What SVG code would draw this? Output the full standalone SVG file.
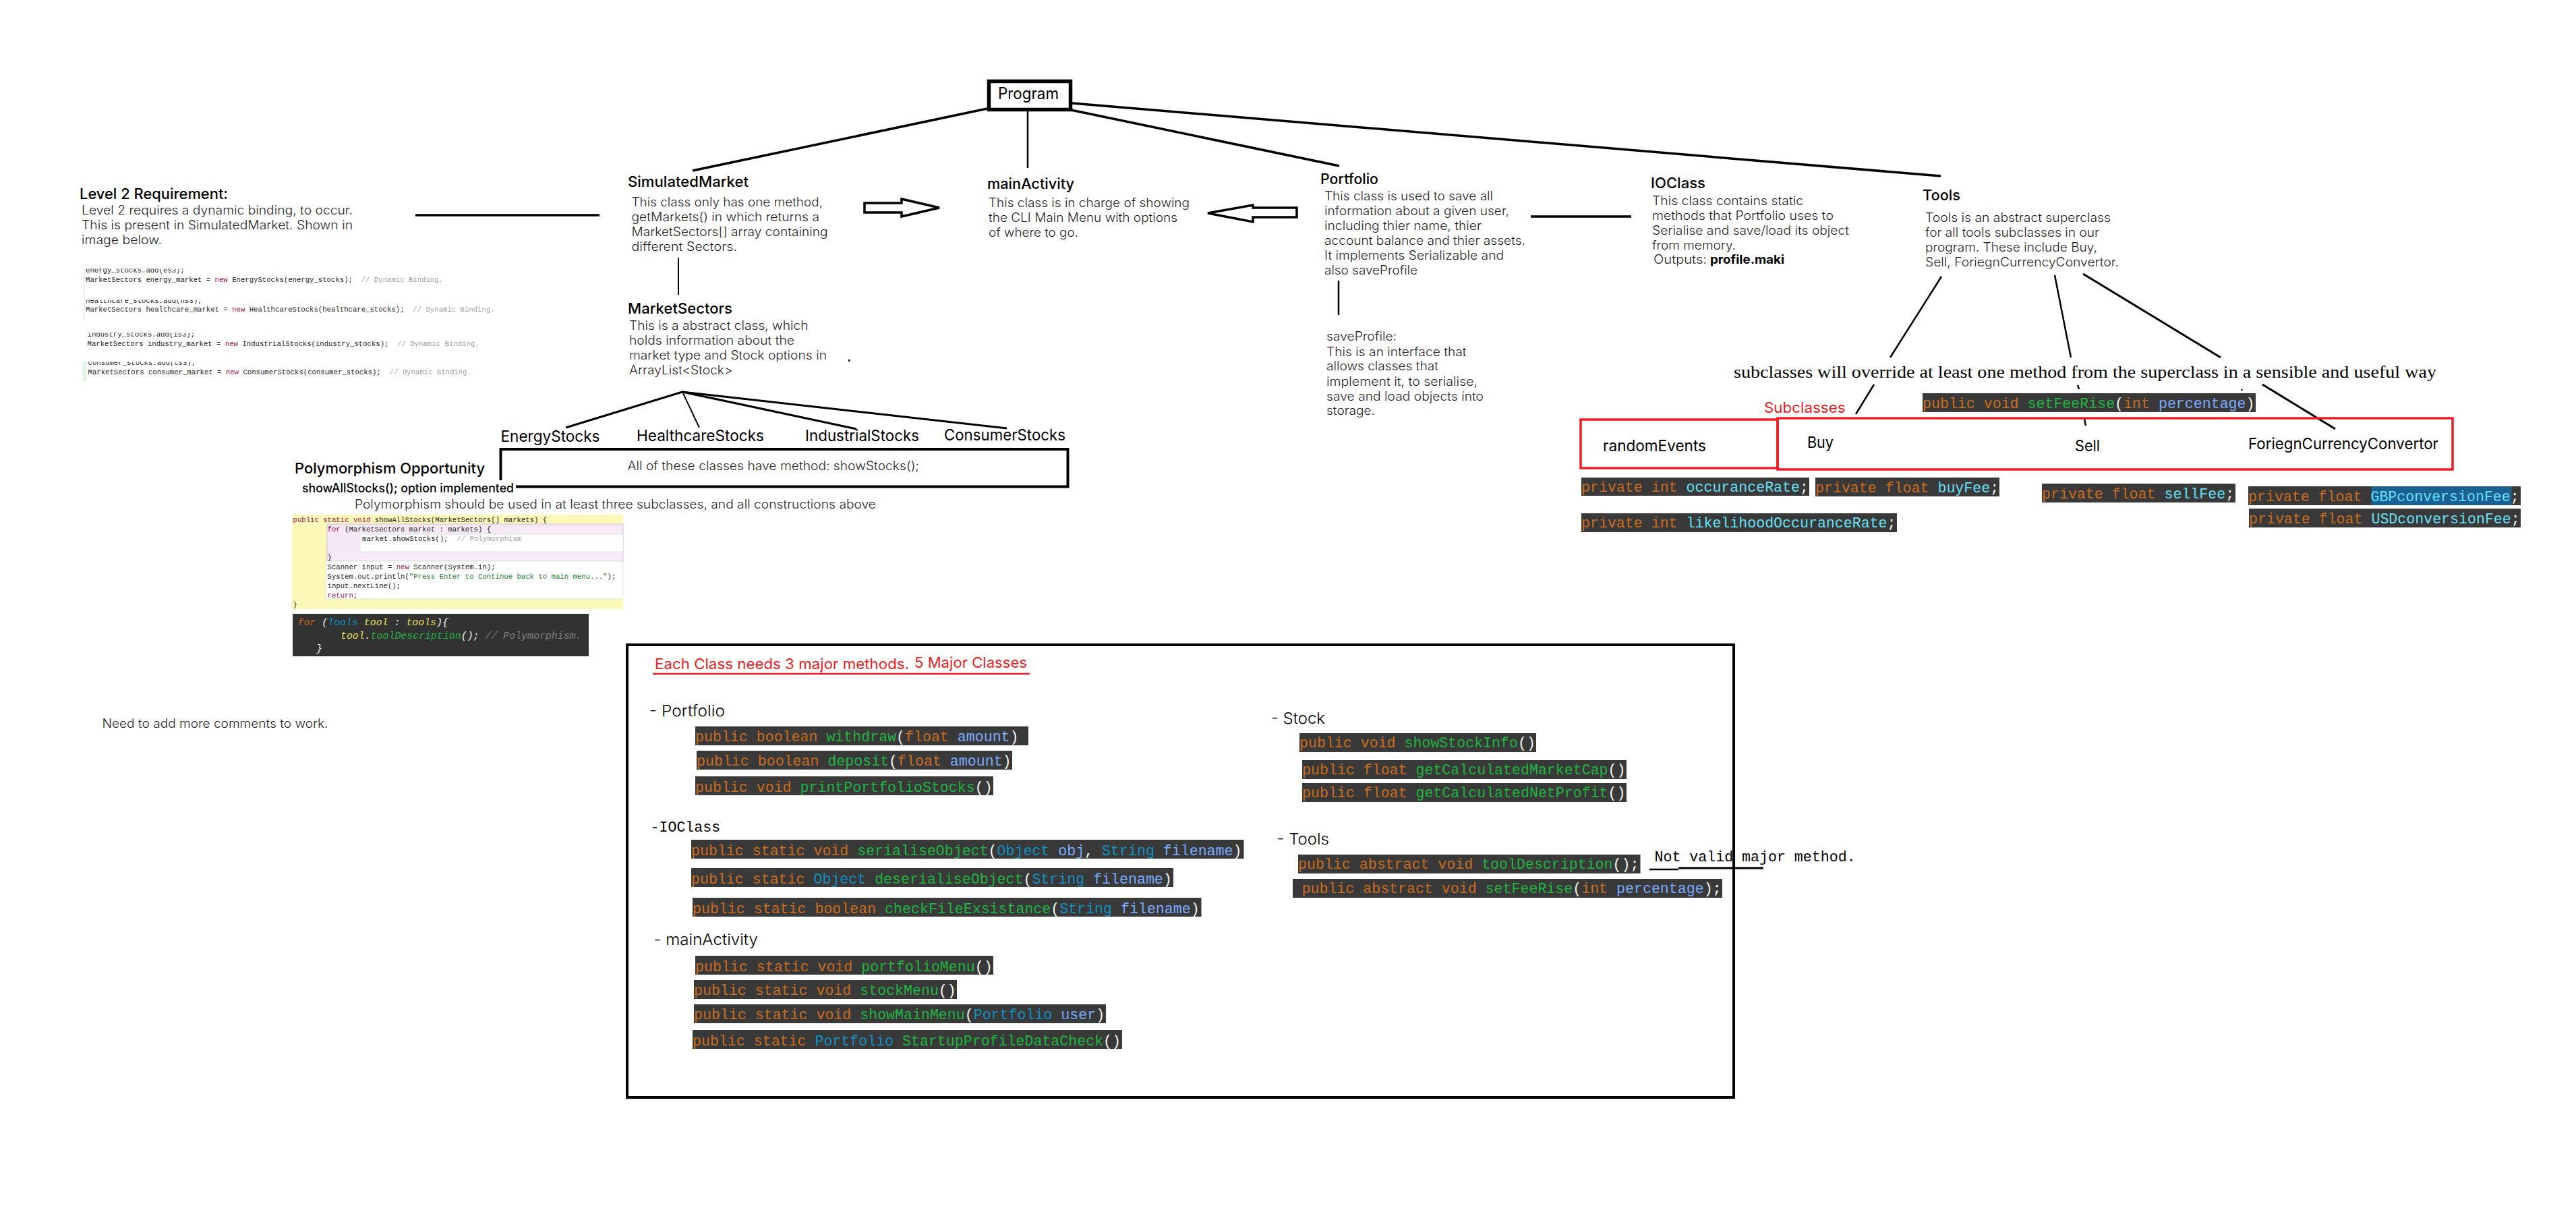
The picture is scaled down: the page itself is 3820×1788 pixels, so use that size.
<svg xmlns="http://www.w3.org/2000/svg" width="3820" height="1788" viewBox="0 0 3820 1788">
<style>
text{font-family:Inter,"Noto Sans","Liberation Sans",sans-serif;fill:#1e1e1e;white-space:pre}
.h{font-size:22px;font-weight:450;fill:#000}
.b{font-size:18px;font-weight:350}
.s{font-size:23px;font-weight:400;fill:#000}
.r{fill:#ed1c24;font-size:22px}
.m{font-family:"Liberation Mono","DejaVu Sans Mono",monospace;font-size:21.6px;fill:#000}
.cd{font-family:"Liberation Mono","DejaVu Sans Mono",monospace;font-size:10.65px;fill:#222}
.d{fill:#393939}
.k{fill:#cc6c1d}.g{fill:#1eb540}.w{fill:#f9faf4}.t{fill:#1290c3}.p{fill:#79abff}.f{fill:#66e1f8}
.kw{fill:#a01050}.cm{fill:#a0a0a0}.st{fill:#1a7a30}
.l{stroke:#000;fill:none;stroke-linecap:butt}
.rr{fill:none;stroke:#ed1c24;stroke-width:3.5}
.bx{fill:none;stroke:#000;stroke-width:4}
.ar{fill:#fff;stroke:#000;stroke-width:3.5}
.it{font-family:"Liberation Mono","DejaVu Sans Mono",monospace;font-size:14.9px;font-style:italic}
</style>
<defs>
<clipPath id="c1"><rect x="120" y="398.5" width="300" height="8"/></clipPath>
<clipPath id="c2"><rect x="120" y="444.5" width="300" height="8"/></clipPath>
<clipPath id="c3"><rect x="120" y="493.5" width="300" height="8"/></clipPath>
<clipPath id="c4"><rect x="120" y="536.5" width="300" height="8"/></clipPath>
</defs>
<rect width="3820" height="1788" fill="#fff"/>

<g id="connectors">
<path class="l" stroke-width="3.5" d="M1464 161L1027 253"/>
<path class="l" stroke-width="2.5" d="M1524 164V249"/>
<path class="l" stroke-width="3.5" d="M1588 163L1986 246"/>
<path class="l" stroke-width="3.5" d="M1590 153L2878 261"/>
<path class="l" stroke-width="3.5" d="M616 319H889"/>
<path class="l" stroke-width="2" d="M1006 382V437"/>
<path class="l" stroke-width="3" d="M1012 581L839 634"/>
<path class="l" stroke-width="2" d="M1012 581L1037 634"/>
<path class="l" stroke-width="3" d="M1012 581L1270 636"/>
<path class="l" stroke-width="3" d="M1012 581L1493 635"/>
<path class="l" stroke-width="2.5" d="M1985 416V467"/>
<path class="l" stroke-width="3.5" d="M2270 321H2419"/>
<path class="l" stroke-width="2.5" d="M2879 410L2803 530"/>
<path class="l" stroke-width="2.5" d="M3047 408L3071 530"/>
<path class="l" stroke-width="3" d="M3089 406L3293 530"/>
<path class="l" stroke-width="2.5" d="M2779 570L2752 614"/>
<path class="l" stroke-width="2.5" d="M3081 571L3083 577"/>
<path class="l" stroke-width="2.5" d="M3091 621L3093 631"/>
<path class="l" stroke-width="3" d="M3355 570L3463 636"/>
<path class="l" stroke-width="2.5" d="M2446 1289H2489"/>
<path class="l" stroke-width="3" d="M2489 1287H2615"/>
<rect x="1258" y="533" width="2.5" height="3" fill="#000"/>
<rect x="3323" y="577" width="2.5" height="2" fill="#000"/>
<polygon class="ar" points="1282,301 1337,301 1337,295 1393,308 1337,321 1337,315 1282,315"/>
<polygon class="ar" points="1923,308 1858,308 1858,304 1791,316 1858,329 1858,322 1923,322"/>
</g>

<g id="program">
<rect class="bx" x="1466.5" y="120.5" width="121" height="42" style="stroke-width:5.5"/>
<text class="s" x="1480" y="147" textLength="90" lengthAdjust="spacingAndGlyphs" style="font-size:24px">Program</text>
</g>

<g id="level2">
<text class="h" x="118" y="295" textLength="220" lengthAdjust="spacingAndGlyphs">Level 2 Requirement:</text>
<text class="b" x="121" y="318" textLength="402" lengthAdjust="spacingAndGlyphs">Level 2 requires a dynamic binding, to occur.</text>
<text class="b" x="121" y="339.5" textLength="402" lengthAdjust="spacingAndGlyphs">This is present in SimulatedMarket. Shown in</text>
<text class="b" x="121" y="362" textLength="119" lengthAdjust="spacingAndGlyphs">image below.</text>
</g>

<g id="bindingCode">
<rect x="124.5" y="397" width="1" height="40" fill="#ddd"/>
<rect x="124.5" y="444" width="1" height="29" fill="#ddd"/>
<rect x="122.5" y="536" width="5.5" height="30" fill="#e0f5e0"/>
<text class="cd" x="127" y="404" clip-path="url(#c1)">energy_stocks.add(es3);</text>
<text class="cd" x="127" y="418">MarketSectors energy_market = <tspan class="kw">new</tspan> EnergyStocks(energy_stocks);  <tspan class="cm">// Dynamic Binding.</tspan></text>
<text class="cd" x="127" y="449" clip-path="url(#c2)">healthcare_stocks.add(hs3);</text>
<text class="cd" x="127" y="462">MarketSectors healthcare_market = <tspan class="kw">new</tspan> HealthcareStocks(healthcare_stocks);  <tspan class="cm">// Dynamic Binding.</tspan></text>
<text class="cd" x="129.5" y="499" clip-path="url(#c3)">industry_stocks.add(is3);</text>
<text class="cd" x="129.5" y="513">MarketSectors industry_market = <tspan class="kw">new</tspan> IndustrialStocks(industry_stocks);  <tspan class="cm">// Dynamic Binding.</tspan></text>
<text class="cd" x="130.5" y="541" clip-path="url(#c4)">consumer_stocks.add(cs3);</text>
<text class="cd" x="130.5" y="555">MarketSectors consumer_market = <tspan class="kw">new</tspan> ConsumerStocks(consumer_stocks);  <tspan class="cm">// Dynamic Binding.</tspan></text>
</g>

<g id="simulatedMarket">
<text class="h" x="931" y="277" textLength="179" lengthAdjust="spacingAndGlyphs">SimulatedMarket</text>
<text class="b" x="936.5" y="306" textLength="283.5" lengthAdjust="spacingAndGlyphs">This class only has one method,</text>
<text class="b" x="936.5" y="328" textLength="278.5" lengthAdjust="spacingAndGlyphs">getMarkets() in which returns a</text>
<text class="b" x="936.5" y="350" textLength="291" lengthAdjust="spacingAndGlyphs">MarketSectors[] array containing</text>
<text class="b" x="936.5" y="371.5" textLength="156.5" lengthAdjust="spacingAndGlyphs">different Sectors.</text>
</g>

<g id="mainActivity">
<text class="h" x="1464" y="279.5" textLength="129" lengthAdjust="spacingAndGlyphs">mainActivity</text>
<text class="b" x="1466" y="307" textLength="298" lengthAdjust="spacingAndGlyphs">This class is in charge of showing</text>
<text class="b" x="1466" y="329" textLength="280" lengthAdjust="spacingAndGlyphs">the CLI Main Menu with options</text>
<text class="b" x="1466" y="350.5" textLength="133" lengthAdjust="spacingAndGlyphs">of where to go.</text>
</g>

<g id="portfolio">
<text class="h" x="1958" y="272.5" textLength="86" lengthAdjust="spacingAndGlyphs">Portfolio</text>
<text class="b" x="1964" y="296.5" textLength="250" lengthAdjust="spacingAndGlyphs">This class is used to save all</text>
<text class="b" x="1964" y="318.5" textLength="274" lengthAdjust="spacingAndGlyphs">information about a given user,</text>
<text class="b" x="1964" y="340.5" textLength="233" lengthAdjust="spacingAndGlyphs">including thier name, thier</text>
<text class="b" x="1964" y="362.5" textLength="298" lengthAdjust="spacingAndGlyphs">account balance and thier assets.</text>
<text class="b" x="1964" y="384.5" textLength="266" lengthAdjust="spacingAndGlyphs">It implements Serializable and</text>
<text class="b" x="1964" y="406.5" textLength="138" lengthAdjust="spacingAndGlyphs">also saveProfile</text>
</g>

<g id="saveProfile">
<text class="b" x="1967" y="505" textLength="104" lengthAdjust="spacingAndGlyphs">saveProfile:</text>
<text class="b" x="1967" y="527.5" textLength="207.5" lengthAdjust="spacingAndGlyphs">This is an interface that</text>
<text class="b" x="1967" y="549" textLength="166" lengthAdjust="spacingAndGlyphs">allows classes that</text>
<text class="b" x="1967" y="571.5" textLength="224" lengthAdjust="spacingAndGlyphs">implement it, to serialise,</text>
<text class="b" x="1967" y="593.5" textLength="233" lengthAdjust="spacingAndGlyphs">save and load objects into</text>
<text class="b" x="1967" y="615" textLength="72" lengthAdjust="spacingAndGlyphs">storage.</text>
</g>

<g id="marketSectors">
<text class="h" x="931" y="465" textLength="155" lengthAdjust="spacingAndGlyphs">MarketSectors</text>
<text class="b" x="933" y="488.5" textLength="265.5" lengthAdjust="spacingAndGlyphs">This is a abstract class, which</text>
<text class="b" x="933" y="510.5" textLength="245" lengthAdjust="spacingAndGlyphs">holds information about the</text>
<text class="b" x="933" y="533" textLength="293" lengthAdjust="spacingAndGlyphs">market type and Stock options in</text>
<text class="b" x="933" y="554.5" textLength="153.5" lengthAdjust="spacingAndGlyphs">ArrayList&lt;Stock&gt;</text>
</g>

<g id="ioClass">
<text class="h" x="2448" y="279" textLength="81" lengthAdjust="spacingAndGlyphs">IOClass</text>
<text class="b" x="2450" y="303.5" textLength="224" lengthAdjust="spacingAndGlyphs">This class contains static</text>
<text class="b" x="2450" y="325.5" textLength="269" lengthAdjust="spacingAndGlyphs">methods that Portfolio uses to</text>
<text class="b" x="2450" y="347.5" textLength="292" lengthAdjust="spacingAndGlyphs">Serialise and save/load its object</text>
<text class="b" x="2450" y="369.5" textLength="124" lengthAdjust="spacingAndGlyphs">from memory.</text>
<text class="b" x="2452" y="391" textLength="79" lengthAdjust="spacingAndGlyphs">Outputs:</text>
<text class="b" x="2536" y="391" textLength="110" lengthAdjust="spacingAndGlyphs" style="font-weight:650;fill:#000">profile.maki</text>
</g>

<g id="tools">
<text class="h" x="2851" y="296.5" textLength="56" lengthAdjust="spacingAndGlyphs">Tools</text>
<text class="b" x="2855" y="329" textLength="275" lengthAdjust="spacingAndGlyphs">Tools is an abstract superclass</text>
<text class="b" x="2855" y="351" textLength="258" lengthAdjust="spacingAndGlyphs">for all tools subclasses in our</text>
<text class="b" x="2855" y="373" textLength="255" lengthAdjust="spacingAndGlyphs">program. These include Buy,</text>
<text class="b" x="2855" y="394.5" textLength="287" lengthAdjust="spacingAndGlyphs">Sell, ForiegnCurrencyConvertor.</text>
</g>

<text x="2571" y="560" textLength="1042" lengthAdjust="spacingAndGlyphs" style="font-family:'Liberation Serif',serif;font-size:25px;fill:#000">subclasses will override at least one method from the superclass in a sensible and useful way</text>
<text class="r" x="2616" y="612" textLength="120.5" lengthAdjust="spacingAndGlyphs">Subclasses</text>

<g id="setFeeRise">
<rect class="d" x="2851" y="583" width="494" height="28"/>
<text class="m" x="2851" y="605"><tspan class="k">public void </tspan><tspan class="g">setFeeRise</tspan><tspan class="w">(</tspan><tspan class="k">int </tspan><tspan class="p">percentage</tspan><tspan class="w">)</tspan></text>
</g>

<g id="randomEvents">
<rect class="rr" x="2344" y="622" width="292" height="72"/>
<text class="s" x="2377" y="669" textLength="153" lengthAdjust="spacingAndGlyphs">randomEvents</text>
</g>
<g id="subclassGroup">
<rect class="rr" x="2636" y="620" width="1001" height="76"/>
<text class="s" x="2680" y="664" textLength="39" lengthAdjust="spacingAndGlyphs">Buy</text>
<text class="s" x="3077" y="669" textLength="37" lengthAdjust="spacingAndGlyphs">Sell</text>
<text class="s" x="3334" y="665.5" textLength="282" lengthAdjust="spacingAndGlyphs">ForiegnCurrencyConvertor</text>
</g>

<g id="subclassFields">
<rect class="d" x="2345" y="708" width="338" height="27"/>
<text class="m" x="2345" y="729"><tspan class="k">private int </tspan><tspan class="f">occuranceRate</tspan><tspan class="w">;</tspan></text>
<rect class="d" x="2692" y="708" width="273" height="28"/>
<text class="m" x="2692" y="729.5"><tspan class="k">private float </tspan><tspan class="f">buyFee</tspan><tspan class="w">;</tspan></text>
<rect class="d" x="2345" y="761" width="468" height="28"/>
<text class="m" x="2345" y="782"><tspan class="k">private int </tspan><tspan class="f">likelihoodOccuranceRate</tspan><tspan class="w">;</tspan></text>
<rect class="d" x="3028" y="717" width="287" height="28"/>
<text class="m" x="3028" y="739"><tspan class="k">private float </tspan><tspan class="f">sellFee</tspan><tspan class="w">;</tspan></text>
<rect class="d" x="3334" y="721" width="404" height="28"/>
<rect x="3516.5" y="721" width="208" height="28" fill="#1a6090"/>
<text class="m" x="3334" y="742.5"><tspan class="k">private float </tspan><tspan class="f">GBPconversionFee</tspan><tspan class="w">;</tspan></text>
<rect class="d" x="3335" y="754" width="403" height="28"/>
<text class="m" x="3335" y="775.5"><tspan class="k">private float </tspan><tspan class="f">USDconversionFee</tspan><tspan class="w">;</tspan></text>
</g>

<g id="stockClasses">
<text class="s" x="742.5" y="655" textLength="147" lengthAdjust="spacingAndGlyphs">EnergyStocks</text>
<text class="s" x="944" y="654" textLength="189" lengthAdjust="spacingAndGlyphs">HealthcareStocks</text>
<text class="s" x="1194" y="654" textLength="169" lengthAdjust="spacingAndGlyphs">IndustrialStocks</text>
<text class="s" x="1400" y="653" textLength="180" lengthAdjust="spacingAndGlyphs">ConsumerStocks</text>
<path class="bx" d="M742.5 712V666H1583.5V721.5H765"/>
<text class="b" x="930.5" y="697" textLength="432.5" lengthAdjust="spacingAndGlyphs">All of these classes have method: showStocks();</text>
</g>

<g id="polymorphism">
<text class="h" x="437" y="701.5" textLength="282" lengthAdjust="spacingAndGlyphs">Polymorphism Opportunity</text>
<text class="b" x="448" y="730" textLength="314" lengthAdjust="spacingAndGlyphs" style="font-weight:500;fill:#000">showAllStocks(); option implemented</text>
<text class="b" x="526" y="754" textLength="773" lengthAdjust="spacingAndGlyphs">Polymorphism should be used in at least three subclasses, and all constructions above</text>
</g>

<g id="showAllStocksCode">
<rect x="433" y="763" width="491" height="140" fill="#fbf8b8"/>
<rect x="485" y="777" width="439" height="55" fill="#f6e8f6" stroke="#d8c0dc" stroke-width="1"/>
<rect x="534" y="792" width="390" height="26" fill="#fff" stroke="#d8e8d8" stroke-width="1"/>
<rect x="483" y="832" width="441" height="56" fill="#fff" stroke="#d8e8d8" stroke-width="1"/>
<text class="cd" x="434.5" y="774"><tspan class="kw">public static void</tspan> showAllStocks(MarketSectors[] markets) {</text>
<text class="cd" x="485.5" y="788"><tspan class="kw">for</tspan> (MarketSectors market : markets) {</text>
<text class="cd" x="537" y="802">market.showStocks();  <tspan class="cm">// Polymorphism</tspan></text>
<text class="cd" x="485.5" y="830">}</text>
<text class="cd" x="485.5" y="844">Scanner input = <tspan class="kw">new</tspan> Scanner(System.in);</text>
<text class="cd" x="485.5" y="858">System.out.println(<tspan class="st">"Press Enter to Continue back to main menu..."</tspan>);</text>
<text class="cd" x="485.5" y="872">input.nextLine();</text>
<text class="cd" x="485.5" y="886"><tspan class="kw">return</tspan>;</text>
<text class="cd" x="434.5" y="900">}</text>
</g>

<g id="toolsLoopCode">
<rect x="434" y="910" width="439" height="63" fill="#323232"/>
<text class="it" x="441.5" y="927"><tspan class="k">for </tspan><tspan class="w">(</tspan><tspan class="t">Tools </tspan><tspan fill="#e8e060">tool </tspan><tspan class="w">: </tspan><tspan fill="#e8e060">tools</tspan><tspan class="w">){</tspan></text>
<text class="it" x="505" y="946.5"><tspan fill="#e8e060">tool</tspan><tspan class="w">.</tspan><tspan class="g">toolDescription</tspan><tspan class="w">(); </tspan><tspan fill="#808080">// Polymorphism.</tspan></text>
<text class="it w" x="469" y="965.5">}</text>
</g>

<text class="b" x="151.5" y="1079" textLength="335" lengthAdjust="spacingAndGlyphs">Need to add more comments to work.</text>

<g id="majorMethods">
<rect class="bx" x="930" y="956" width="1641" height="671"/>
<text class="r" x="971" y="992" textLength="377" lengthAdjust="spacingAndGlyphs">Each Class needs 3 major methods.</text>
<text class="r" x="1356" y="990" textLength="167" lengthAdjust="spacingAndGlyphs">5 Major Classes</text>
<path d="M968 999H1527" stroke="#ed1c24" stroke-width="2.5"/>

<text class="s" x="963" y="1062" textLength="112" lengthAdjust="spacingAndGlyphs" style="font-weight:350">- Portfolio</text>
<rect class="d" x="1031" y="1077" width="494" height="28"/>
<text class="m" x="1031" y="1099"><tspan class="k">public boolean </tspan><tspan class="g">withdraw</tspan><tspan class="w">(</tspan><tspan class="k">float </tspan><tspan class="p">amount</tspan><tspan class="w">)</tspan></text>
<rect class="d" x="1033" y="1113" width="468" height="28"/>
<text class="m" x="1033" y="1135"><tspan class="k">public boolean </tspan><tspan class="g">deposit</tspan><tspan class="w">(</tspan><tspan class="k">float </tspan><tspan class="p">amount</tspan><tspan class="w">)</tspan></text>
<rect class="d" x="1031" y="1151" width="442" height="28"/>
<text class="m" x="1031" y="1173.5"><tspan class="k">public void </tspan><tspan class="g">printPortfolioStocks</tspan><tspan class="w">()</tspan></text>

<text class="m" x="964.5" y="1233">-IOClass</text>
<rect class="d" x="1025" y="1245" width="819.5" height="28"/>
<text class="m" x="1025" y="1267.5"><tspan class="k">public static void </tspan><tspan class="g">serialiseObject</tspan><tspan class="w">(</tspan><tspan class="t">Object </tspan><tspan class="p">obj</tspan><tspan class="w">, </tspan><tspan class="t">String </tspan><tspan class="p">filename</tspan><tspan class="w">)</tspan></text>
<rect class="d" x="1025" y="1287" width="715" height="28"/>
<text class="m" x="1025" y="1309.5"><tspan class="k">public static </tspan><tspan class="t">Object </tspan><tspan class="g">deserialiseObject</tspan><tspan class="w">(</tspan><tspan class="t">String </tspan><tspan class="p">filename</tspan><tspan class="w">)</tspan></text>
<rect class="d" x="1027" y="1331" width="754.5" height="28"/>
<text class="m" x="1027" y="1353.5"><tspan class="k">public static boolean </tspan><tspan class="g">checkFileExsistance</tspan><tspan class="w">(</tspan><tspan class="t">String </tspan><tspan class="p">filename</tspan><tspan class="w">)</tspan></text>

<text class="s" x="969.5" y="1401" textLength="154.5" lengthAdjust="spacingAndGlyphs" style="font-weight:350">- mainActivity</text>
<rect class="d" x="1031" y="1417" width="442" height="28"/>
<text class="m" x="1031" y="1439.5"><tspan class="k">public static void </tspan><tspan class="g">portfolioMenu</tspan><tspan class="w">()</tspan></text>
<rect class="d" x="1029" y="1453" width="390" height="28"/>
<text class="m" x="1029" y="1475"><tspan class="k">public static void </tspan><tspan class="g">stockMenu</tspan><tspan class="w">()</tspan></text>
<rect class="d" x="1029" y="1489" width="611" height="28"/>
<text class="m" x="1029" y="1511"><tspan class="k">public static void </tspan><tspan class="g">showMainMenu</tspan><tspan class="w">(</tspan><tspan class="t">Portfolio </tspan><tspan class="p">user</tspan><tspan class="w">)</tspan></text>
<rect class="d" x="1027" y="1527" width="637" height="28"/>
<text class="m" x="1027" y="1549.5"><tspan class="k">public static </tspan><tspan class="t">Portfolio </tspan><tspan class="g">StartupProfileDataCheck</tspan><tspan class="w">()</tspan></text>

<text class="s" x="1885" y="1073" textLength="80" lengthAdjust="spacingAndGlyphs" style="font-weight:350">- Stock</text>
<rect class="d" x="1927" y="1087" width="351" height="28"/>
<text class="m" x="1927" y="1108"><tspan class="k">public void </tspan><tspan class="g">showStockInfo</tspan><tspan class="w">()</tspan></text>
<rect class="d" x="1931" y="1127" width="481" height="28"/>
<text class="m" x="1931" y="1148"><tspan class="k">public float </tspan><tspan class="g">getCalculatedMarketCap</tspan><tspan class="w">()</tspan></text>
<rect class="d" x="1931" y="1161" width="481" height="28"/>
<text class="m" x="1931" y="1182"><tspan class="k">public float </tspan><tspan class="g">getCalculatedNetProfit</tspan><tspan class="w">()</tspan></text>

<text class="s" x="1893.5" y="1252" textLength="77.5" lengthAdjust="spacingAndGlyphs" style="font-weight:350">- Tools</text>
<rect class="d" x="1925" y="1267" width="507.5" height="28"/>
<text class="m" x="1925" y="1288"><tspan class="k">public abstract void </tspan><tspan class="g">toolDescription</tspan><tspan class="w">();</tspan></text>
<rect class="d" x="1917" y="1303" width="637" height="28"/>
<text class="m" x="1930.5" y="1324"><tspan class="k">public abstract void </tspan><tspan class="g">setFeeRise</tspan><tspan class="w">(</tspan><tspan class="k">int </tspan><tspan class="p">percentage</tspan><tspan class="w">);</tspan></text>
<text class="m" x="2453.5" y="1277">Not valid major method.</text>
</g>
</svg>
